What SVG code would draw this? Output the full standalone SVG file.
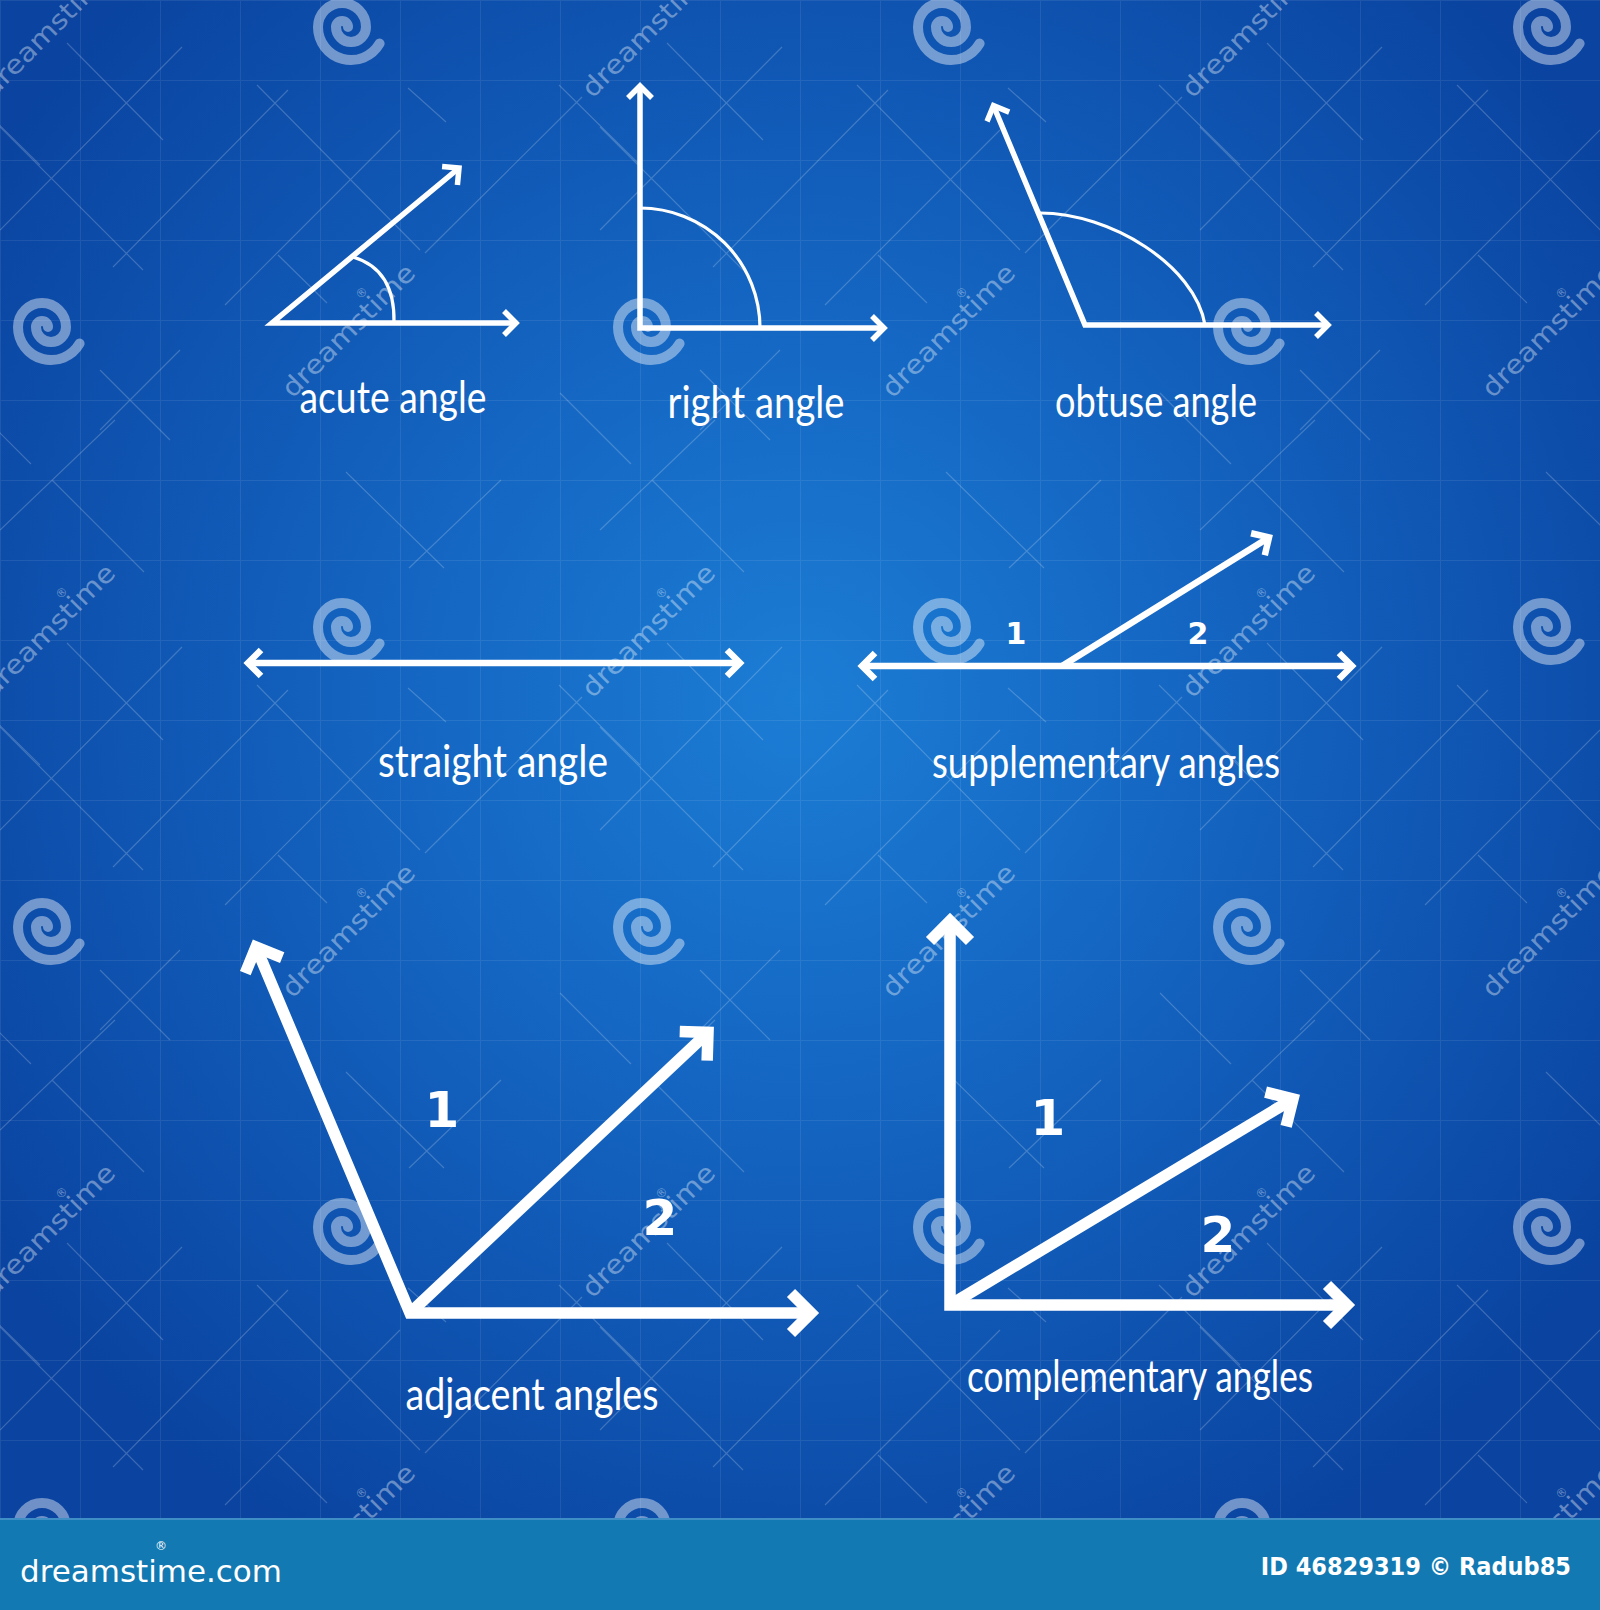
<svg xmlns="http://www.w3.org/2000/svg" xmlns:xlink="http://www.w3.org/1999/xlink" width="1600" height="1610" viewBox="0 0 1600 1610">
<defs>
  <radialGradient id="bg" gradientUnits="userSpaceOnUse" cx="800" cy="700" r="980">
    <stop offset="0" stop-color="#1c7dd5"/>
    <stop offset="0.4" stop-color="#1466c2"/>
    <stop offset="1" stop-color="#0a43a0"/>
  </radialGradient>
  <pattern id="grid" patternUnits="userSpaceOnUse" x="0" y="0" width="80" height="80">
    <path d="M0,0 H80 M0,0 V80" fill="none" stroke="#ffffff" stroke-opacity="0.08" stroke-width="2"/>
  </pattern>
  <marker id="mS" markerUnits="userSpaceOnUse" orient="auto-start-reverse" overflow="visible" markerWidth="1" markerHeight="1" refX="0" refY="0">
    <path d="M-12,-12 L0,0 L-12,12" fill="none" stroke="#ffffff" stroke-width="5.5"/>
  </marker>
  <marker id="mM" markerUnits="userSpaceOnUse" orient="auto-start-reverse" overflow="visible" markerWidth="1" markerHeight="1" refX="0" refY="0">
    <path d="M-13,-13 L0,0 L-13,13" fill="none" stroke="#ffffff" stroke-width="6.5"/>
  </marker>
  <marker id="mL" markerUnits="userSpaceOnUse" orient="auto-start-reverse" overflow="visible" markerWidth="1" markerHeight="1" refX="0" refY="0">
    <path d="M-20,-20 L0,0 L-20,20" fill="none" stroke="#ffffff" stroke-width="11.5"/>
  </marker>
  <path id="xl" d="M67,43L163,140 M182,47L0,230 M0,127L143,270 M113,267L288,90 M257,85L420,250 M225,305L400,130 M278,255L327,303 M0,530L115,420 M52,480L144,572 M409,568L501,480 M346,472L444,568 M425,253L582,97 M408,88L446,122 M559,85L640,165 M100,370L170,440 M180,350L100,430 M560,393L631,464" fill="none" stroke="#ffffff" stroke-opacity="0.2" stroke-width="1.2"/>
  <path id="spiral" d="M6,0 A6,6 0 0 0 -6,0 A15,15 0 0 0 24,0 A24,24 0 0 0 -24,0 A33,33 0 0 0 37.6,16.5" transform="translate(-7,-4)" fill="none" stroke="#ffffff" stroke-opacity="0.42" stroke-width="10" stroke-linecap="round"/>
  <g id="wm" transform="rotate(-45)">
    <text x="0" y="8" text-anchor="middle" textLength="176" lengthAdjust="spacingAndGlyphs" class="wmt">dreamstime</text>
    <text x="36" y="-14" text-anchor="middle" class="wmr">®</text>
  </g>
</defs>
<style>
  .ray { fill: none; stroke: #ffffff; stroke-linejoin: miter; stroke-miterlimit: 6; }
  .thin { stroke-width: 5.5; }
  .mid { stroke-width: 6.5; }
  .thick { stroke-width: 11.5; }
  .arc { fill: none; stroke: #ffffff; stroke-width: 3.2; }
  .lbl { font-family: Lato, "Open Sans", "DejaVu Sans", sans-serif; font-size: 44px; fill: #ffffff; text-anchor: middle; }
  .num { font-family: "DejaVu Sans", "Open Sans", sans-serif; font-weight: bold; fill: #ffffff; text-anchor: middle; }
  .wmt { font-family: "DejaVu Sans", sans-serif; font-size: 26px; fill: #ffffff; fill-opacity: 0.38; }
  .wmr { font-family: "DejaVu Sans", sans-serif; font-size: 12px; fill: #ffffff; fill-opacity: 0.38; }
  .foot { font-family: "DejaVu Sans", sans-serif; fill: #ffffff; }
  .idt { font-family: "Liberation Sans Narrow", "DejaVu Sans Condensed", "Liberation Sans", sans-serif; font-weight: bold; font-stretch: condensed; fill: #ffffff; }
</style>

<g id="background">
  <rect x="0" y="0" width="1600" height="1610" fill="url(#bg)"/>
  <rect x="0" y="0" width="1600" height="1610" fill="url(#grid)"/>
  <g id="cross-lines">
    <use href="#xl" x="-600" y="0"/><use href="#xl" x="0" y="0"/><use href="#xl" x="600" y="0"/><use href="#xl" x="1200" y="0"/>
    <use href="#xl" x="-600" y="600"/><use href="#xl" x="0" y="600"/><use href="#xl" x="600" y="600"/><use href="#xl" x="1200" y="600"/>
    <use href="#xl" x="-600" y="1200"/><use href="#xl" x="0" y="1200"/><use href="#xl" x="600" y="1200"/><use href="#xl" x="1200" y="1200"/>
  </g>
  <g id="spirals">
    <use href="#spiral" x="349" y="31"/><use href="#spiral" x="949" y="31"/><use href="#spiral" x="1549" y="31"/>
    <use href="#spiral" x="49" y="331"/><use href="#spiral" x="649" y="331"/><use href="#spiral" x="1249" y="331"/>
    <use href="#spiral" x="349" y="631"/><use href="#spiral" x="949" y="631"/><use href="#spiral" x="1549" y="631"/>
    <use href="#spiral" x="49" y="931"/><use href="#spiral" x="649" y="931"/><use href="#spiral" x="1249" y="931"/>
    <use href="#spiral" x="349" y="1231"/><use href="#spiral" x="949" y="1231"/><use href="#spiral" x="1549" y="1231"/>
    <use href="#spiral" x="49" y="1531"/><use href="#spiral" x="649" y="1531"/><use href="#spiral" x="1249" y="1531"/>
  </g>
  <g id="watermarks">
    <use href="#wm" x="49" y="31"/><use href="#wm" x="649" y="31"/><use href="#wm" x="1249" y="31"/>
    <use href="#wm" x="349" y="331"/><use href="#wm" x="949" y="331"/><use href="#wm" x="1549" y="331"/>
    <use href="#wm" x="49" y="631"/><use href="#wm" x="649" y="631"/><use href="#wm" x="1249" y="631"/>
    <use href="#wm" x="349" y="931"/><use href="#wm" x="949" y="931"/><use href="#wm" x="1549" y="931"/>
    <use href="#wm" x="49" y="1231"/><use href="#wm" x="649" y="1231"/><use href="#wm" x="1249" y="1231"/>
    <use href="#wm" x="349" y="1531"/><use href="#wm" x="949" y="1531"/><use href="#wm" x="1549" y="1531"/>
  </g>
</g>

<g id="acute-angle">
  <polyline class="ray thin" points="459,168 272,323 516,323" marker-start="url(#mS)" marker-end="url(#mS)"/>
  <path class="arc" d="M353,257 C380,265 395,285 394,323"/>
  <text class="lbl" x="393" y="413" textLength="187" lengthAdjust="spacingAndGlyphs">acute angle</text>
</g>

<g id="right-angle">
  <polyline class="ray thin" points="640,86 640,328 884,328" marker-start="url(#mS)" marker-end="url(#mS)"/>
  <path class="arc" d="M640,208 A120,120 0 0 1 760,328"/>
  <text class="lbl" x="756" y="418" textLength="177" lengthAdjust="spacingAndGlyphs">right angle</text>
</g>

<g id="obtuse-angle">
  <polyline class="ray thin" points="993.5,105.7 1085,325 1328,325" marker-start="url(#mS)" marker-end="url(#mS)"/>
  <path class="arc" d="M1040,213 C1110,213 1195,265 1205,325"/>
  <text class="lbl" x="1156" y="417" textLength="202" lengthAdjust="spacingAndGlyphs">obtuse angle</text>
</g>

<g id="straight-angle">
  <line class="ray mid" x1="248" y1="663" x2="740" y2="663" marker-start="url(#mM)" marker-end="url(#mM)"/>
  <text class="lbl" x="493" y="777" textLength="230" lengthAdjust="spacingAndGlyphs">straight angle</text>
</g>

<g id="supplementary-angles">
  <line class="ray mid" x1="862" y1="666" x2="1352" y2="666" marker-start="url(#mM)" marker-end="url(#mM)"/>
  <line class="ray mid" x1="1062" y1="666" x2="1269" y2="537.4" marker-end="url(#mM)"/>
  <text class="num" x="1016" y="644" font-size="30">1</text>
  <text class="num" x="1198" y="644" font-size="30">2</text>
  <text class="lbl" x="1106" y="778" textLength="348" lengthAdjust="spacingAndGlyphs">supplementary angles</text>
</g>

<g id="adjacent-angles">
  <polyline class="ray thick" points="256,947 410,1313 811,1313" marker-start="url(#mL)" marker-end="url(#mL)"/>
  <line class="ray thick" x1="410" y1="1313" x2="708" y2="1032.4" marker-end="url(#mL)"/>
  <text class="num" x="442" y="1127" font-size="50">1</text>
  <text class="num" x="660" y="1235" font-size="50">2</text>
  <text class="lbl" x="532" y="1410" textLength="253" lengthAdjust="spacingAndGlyphs">adjacent angles</text>
</g>

<g id="complementary-angles">
  <polyline class="ray thick" points="950,921 950,1305 1347,1305" marker-start="url(#mL)" marker-end="url(#mL)"/>
  <line class="ray thick" x1="950" y1="1305" x2="1293" y2="1099" marker-end="url(#mL)"/>
  <text class="num" x="1048" y="1135" font-size="50">1</text>
  <text class="num" x="1218" y="1252" font-size="50">2</text>
  <text class="lbl" x="1140" y="1392" textLength="346" lengthAdjust="spacingAndGlyphs">complementary angles</text>
</g>

<g id="connectors"></g>

<g id="footer">
  <rect x="0" y="1519" width="1600" height="91" fill="#1279b2"/>
  <rect x="0" y="1518" width="1600" height="2" fill="#3f8fc6"/>
  <text class="foot" x="20" y="1582" font-size="30" textLength="262" lengthAdjust="spacingAndGlyphs">dreamstime.com</text>
  <text class="foot" x="161" y="1550" font-size="12" text-anchor="middle">®</text>
  <text class="idt" x="1571" y="1575" font-size="25" text-anchor="end">ID 46829319 © Radub85</text>
</g>
</svg>
